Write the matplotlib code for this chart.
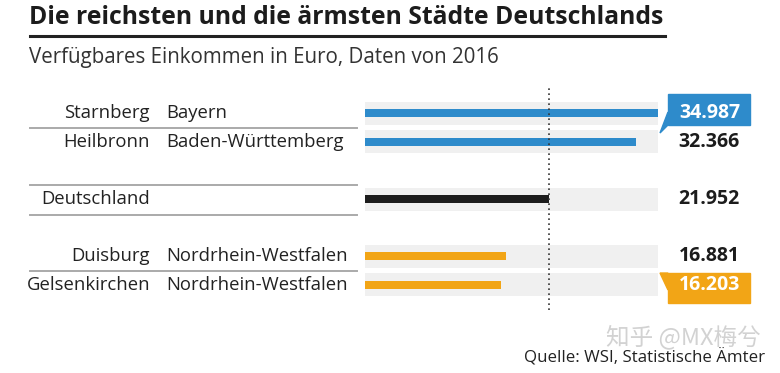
import matplotlib.pyplot as plt
from matplotlib.patches import Polygon

plt.rcParams['font.family'] = ['Open Sans', 'DejaVu Sans']

# data
cities = ["Starnberg", "Heilbronn", "Deutschland", "Duisburg", "Gelsenkirchen"]
states = ["Bayern", "Baden-Württemberg", "", "Nordrhein-Westfalen", "Nordrhein-Westfalen"]
income = [34987, 32366, 21952, 16881, 16203]
labels = ["34.987", "32.366", "21.952", "16.881", "16.203"]
rows = [0, 1, 3, 5, 6]

blue, orange, black = "#2e8bcb", "#f2a516", "#1c1c1c"
colors = [blue, blue, black, orange, orange]
W, H = 780, 373


def fx(x):
    return x / W


def fy(y):
    return 1 - y / H


fig = plt.figure(figsize=(W / 100, H / 100), dpi=100)

# title, rule, subtitle
fig.text(fx(29), fy(18), "Die reichsten und die ärmsten Städte Deutschlands",
         fontsize=17.8, fontweight="bold", color="#1c1c1c", va="center")
fig.add_artist(plt.Line2D([fx(30), fx(665)], [fy(36), fy(36)], color="#222", lw=2.2))
fig.text(fx(29), fy(57), "Verfügbares Einkommen in Euro, Daten von 2016",
         fontsize=14.8, color="#333", va="center")

# bar axes
top_px, bot_px = 88, 310
unit = 28.6
row0 = 113.3
ax = fig.add_axes([fx(365), fy(bot_px), (658 - 365) / W, (bot_px - top_px) / H])
ax.set_xlim(0, max(income))
ax.set_ylim((bot_px - row0) / unit, -(row0 - top_px) / unit)
ax.barh(rows, [max(income)] * len(rows), height=0.8, color="#f0f0f0", zorder=1)
ax.barh(rows, income, height=0.29, color=colors, zorder=2)
ax.axvline(income[2], color="#333", lw=1.2, ls=(0, (1, 2)), zorder=3)
ax.axis("off")


def row_y(r):
    return row0 + r * unit


for i, (r, c, s, lab) in enumerate(zip(rows, cities, states, labels)):
    y = row_y(r)
    highlight = i in (0, 4)
    fig.text(fx(150), fy(y), c, ha="right", va="center", fontsize=13.3, color="#222")
    fig.text(fx(166), fy(y), s, ha="left", va="center", fontsize=13.3, color="#222")
    fig.text(fx(740), fy(y), lab, ha="right", va="center", fontsize=14,
             fontweight="bold", color="white" if highlight else "#1c1c1c", zorder=5)

# separator lines
for y in [127.5, 185, 215, 271]:
    fig.add_artist(plt.Line2D([fx(30), fx(357)], [fy(y), fy(y)], color="#aaa", lw=1.4))

# highlight boxes with tails
boxes = [
    (blue, 94, 125, [(668, 112), (668, 125), (660, 133)]),
    (orange, 273, 303, [(668, 273), (668, 290), (660, 273)]),
]
for col, y0, y1, poly in boxes:
    fig.add_artist(plt.Rectangle((fx(668), fy(y1)), fx(750) - fx(668), fy(y0) - fy(y1),
                                 transform=fig.transFigure, color=col, zorder=3))
    fig.add_artist(Polygon([(fx(a), fy(b)) for a, b in poly], closed=True,
                           transform=fig.transFigure, color=col, zorder=3))

fig.text(fx(761), fy(337), "知乎 @MX梅兮", ha="right", va="center", fontsize=17,
         color="#d2d2d2", family=["Noto Sans CJK SC", "DejaVu Sans"])
fig.text(fx(765), fy(358), "Quelle: WSI, Statistische Ämter", ha="right", va="center",
         fontsize=12.2, color="#222")

fig.savefig("out.png", dpi=100)
